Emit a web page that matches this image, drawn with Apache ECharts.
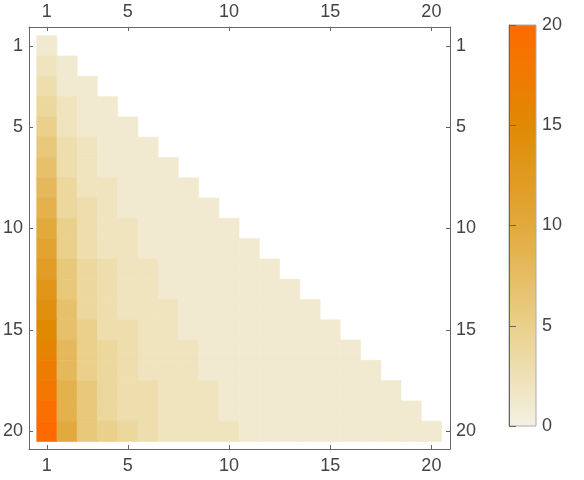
<!DOCTYPE html>
<html>
<head>
<meta charset="utf-8">
<script src="https://cdn.jsdelivr.net/npm/echarts@6/dist/echarts.min.js"></script>
<style>
  html, body { margin: 0; padding: 0; background: #fff; }
  #chart { width: 584px; height: 480px; }
</style>
</head>
<body>
<div id="chart"></div>
<script>
// matrix values, row by row (row 1 on top), lower triangle only
const rowValues = [
  [1],
  [2, 1],
  [3, 1, 1],
  [4, 2, 1, 1],
  [5, 2, 1, 1, 1],
  [6, 3, 2, 1, 1, 1],
  [7, 3, 2, 1, 1, 1, 1],
  [8, 4, 2, 2, 1, 1, 1, 1],
  [9, 4, 3, 2, 1, 1, 1, 1, 1],
  [10, 5, 3, 2, 2, 1, 1, 1, 1, 1],
  [11, 5, 3, 2, 2, 1, 1, 1, 1, 1, 1],
  [12, 6, 4, 3, 2, 2, 1, 1, 1, 1, 1, 1],
  [13, 6, 4, 3, 2, 2, 1, 1, 1, 1, 1, 1, 1],
  [14, 7, 4, 3, 2, 2, 2, 1, 1, 1, 1, 1, 1, 1],
  [15, 7, 5, 3, 3, 2, 2, 1, 1, 1, 1, 1, 1, 1, 1],
  [16, 8, 5, 4, 3, 2, 2, 2, 1, 1, 1, 1, 1, 1, 1, 1],
  [17, 8, 5, 4, 3, 2, 2, 2, 1, 1, 1, 1, 1, 1, 1, 1, 1],
  [18, 9, 6, 4, 3, 3, 2, 2, 2, 1, 1, 1, 1, 1, 1, 1, 1, 1],
  [19, 9, 6, 4, 3, 3, 2, 2, 2, 1, 1, 1, 1, 1, 1, 1, 1, 1, 1],
  [20, 10, 6, 5, 4, 3, 2, 2, 2, 2, 1, 1, 1, 1, 1, 1, 1, 1, 1, 1]
]
const tickValues = [1, 5, 10, 15, 20]
const barTicks = [0, 5, 10, 15, 20]
const colorStops = ['#F4F1E2', '#EAD08A', '#E2A93C', '#E08A02', '#FF6A00']

const cells = []
rowValues.forEach((row, i) => {
  row.forEach((v, j) => {
    cells.push([j + 1, i + 1, v])
  })
})

const font = 'Liberation Sans'
const labelColor = '#444'
const lineColor = '#666'
const fontSize = 18

function frameAxis(pos, extra) {
  return Object.assign({
    type: 'value',
    gridIndex: 0,
    position: pos,
    min: 0.12,
    max: 20.92,
    axisLine: { show: true, onZero: false, lineStyle: { color: lineColor, width: 1 } },
    axisTick: { show: true, inside: true, length: 4, customValues: tickValues, lineStyle: { color: lineColor } },
    axisLabel: { customValues: tickValues, color: labelColor, fontSize: fontSize, fontFamily: font, margin: 6 },
    splitLine: { show: false }
  }, extra || {})
}

function renderCell(params, api) {
  const x = api.value(0)
  const y = api.value(1)
  const p0 = api.coord([x - 0.5, y - 0.5])
  const p1 = api.coord([x + 0.5, y + 0.5])
  const c = api.visual('color')
  return {
    type: 'rect',
    shape: {
      x: Math.min(p0[0], p1[0]),
      y: Math.min(p0[1], p1[1]),
      width: Math.abs(p1[0] - p0[0]),
      height: Math.abs(p1[1] - p0[1])
    },
    style: { fill: c, stroke: c, lineWidth: 0.6 }
  }
}

function renderBar(params, api) {
  const top = api.coord([0, 20])
  const bottom = api.coord([1, 0])
  const stops = colorStops.map((c, i) => ({ offset: 1 - i / (colorStops.length - 1), color: c }))
  return {
    type: 'rect',
    shape: { x: top[0], y: top[1], width: bottom[0] - top[0], height: bottom[1] - top[1] },
    style: {
      fill: new echarts.graphic.LinearGradient(0, 0, 0, 1, stops.reverse()),
      stroke: '#aaa',
      lineWidth: 1
    }
  }
}

const chart = echarts.init(document.getElementById('chart'), null, { renderer: 'canvas' })
chart.setOption({
  animation: false,
  backgroundColor: '#fff',
  grid: [
    { left: 28, top: 27, width: 422, height: 422 },
    { left: 509, top: 25, width: 27, height: 401 }
  ],
  xAxis: [
    frameAxis('bottom', { axisLabel: { customValues: tickValues, color: labelColor, fontSize: fontSize, fontFamily: font, margin: 8 } }),
    frameAxis('top'),
    { type: 'value', gridIndex: 1, min: 0, max: 1, show: false }
  ],
  yAxis: [
    frameAxis('left', { inverse: true, min: 0.07, max: 20.87 }),
    frameAxis('right', { inverse: true, min: 0.07, max: 20.87 }),
    {
      type: 'value',
      gridIndex: 1,
      position: 'right',
      min: 0,
      max: 20,
      interval: 5,
      z: 5,
      axisLine: { show: true, lineStyle: { color: lineColor } },
      axisTick: { show: true, length: 7, lineStyle: { color: lineColor } },
      axisLabel: { color: labelColor, fontSize: fontSize, fontFamily: font, margin: 6 },
      splitLine: { show: false }
    }
  ],
  visualMap: {
    type: 'continuous',
    show: false,
    min: 0,
    max: 20,
    dimension: 2,
    seriesIndex: 0,
    inRange: { color: colorStops }
  },
  series: [
    {
      type: 'custom',
      xAxisIndex: 0,
      yAxisIndex: 0,
      renderItem: renderCell,
      encode: { x: 0, y: 1 },
      data: cells
    },
    {
      type: 'custom',
      xAxisIndex: 2,
      yAxisIndex: 2,
      renderItem: renderBar,
      encode: { x: 0, y: 1 },
      data: [[0, 0]]
    }
  ]
})
</script>
</body>
</html>
